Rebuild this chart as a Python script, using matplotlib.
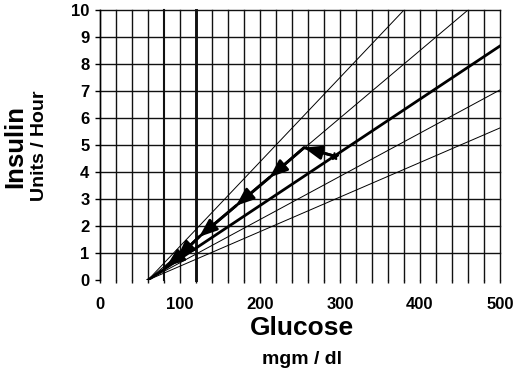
import matplotlib
matplotlib.use("Agg")
import matplotlib.pyplot as plt
import numpy as np

plt.rcParams['font.family'] = ['Liberation Sans', 'DejaVu Sans']
plt.rcParams['font.weight'] = 'bold'

# Data
x_ticks = [0, 100, 200, 300, 400, 500]
y_ticks = [0, 1, 2, 3, 4, 5, 6, 7, 8, 9, 10]
x_grid = list(range(0, 501, 20))
glucose_origin = 60
multipliers = [0.0128, 0.016, 0.0197, 0.025, 0.03125]
thick_multiplier = 0.0197
path_glucose = [292, 255, 212, 170, 124, 96, 83]
path_insulin = [4.6, 4.9, 3.8, 2.75, 1.6, 0.8, 0.5]

fig = plt.figure(figsize=(5.2, 3.71), dpi=100)
ax = fig.add_axes([100/520, 1-280/371, 400/520, 270/371])
ax.set_xlim(0, 500)
ax.set_ylim(0, 10)

# grid
for gx in x_grid:
    lw = 1.0
    if gx == 80:
        lw = 1.5
    if gx == 120:
        lw = 2.1
    ax.axvline(gx, color='#111111', lw=lw, zorder=1, clip_on=False)
for gy in y_ticks[1:]:
    ax.axhline(gy, color='#111111', lw=1.0, zorder=1, clip_on=False)

# diagonal lines
xs = np.array([glucose_origin, 500.0])
for m in multipliers:
    lw = 2.0 if m == thick_multiplier else 0.7
    ax.plot(xs, (xs - glucose_origin) * m, color='black', lw=lw, zorder=2)

# path with arrows
ax.plot(path_glucose, path_insulin, color='black', lw=2.0, zorder=3)
ax.plot(path_glucose[0], path_insulin[0], marker='*', ms=6, color='black', zorder=4)
for i in range(1, len(path_glucose)):
    x0, y0 = path_glucose[i-1], path_insulin[i-1]
    x1, y1 = path_glucose[i], path_insulin[i]
    ax.annotate('', xy=(x1, y1), xytext=(x0, y0),
                arrowprops=dict(arrowstyle='-|>,head_length=0.9,head_width=0.35',
                                color='black', lw=2.0, shrinkA=0, shrinkB=0,
                                mutation_scale=12), zorder=4)

for s in ['top', 'right', 'bottom']:
    ax.spines[s].set_visible(False)
ax.spines['left'].set_linewidth(1.0)

ax.set_xticks(x_ticks)
ax.set_xticks(x_grid, minor=True)
ax.set_yticks(y_ticks)
ax.set_xticklabels([str(v) for v in x_ticks], fontsize=12, fontweight='bold')
ax.set_yticklabels([str(v) for v in y_ticks], fontsize=12, fontweight='bold')
ax.tick_params(axis='x', which='both', length=2, width=1, direction='out', pad=10, color='#111111')
ax.tick_params(axis='y', length=3.6, width=1, direction='out', pad=4)

fig.text(15/520, 1-147/371, 'Insulin', rotation=90, ha='center', va='center', fontsize=18.5, fontweight='bold')
fig.text(40/520, 1-146/371, 'Units / Hour', rotation=90, ha='center', va='center', fontsize=14, fontweight='bold')
fig.text(302/520, 1-328/371, 'Glucose', ha='center', va='center', fontsize=19, fontweight='bold')
fig.text(302/520, 1-359/371, 'mgm / dl', ha='center', va='center', fontsize=14, fontweight='bold')

fig.savefig('out.png', dpi=100)
